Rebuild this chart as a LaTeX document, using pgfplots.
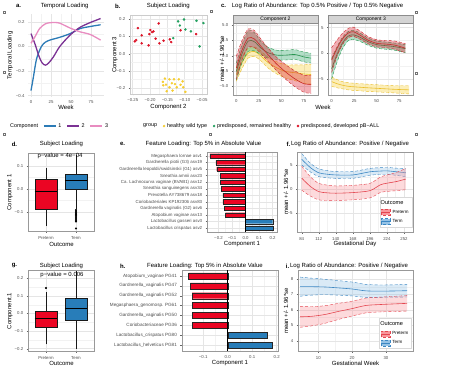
\documentclass[border=0pt]{standalone}
\usepackage{fontspec}
\setmainfont{Liberation Sans}
\usepackage{pgfplots}
\pgfplotsset{compat=1.18}

\definecolor{cOne}{RGB}{44,123,182}
\definecolor{cTwo}{RGB}{123,50,148}
\definecolor{cThree}{RGB}{232,140,192}
\definecolor{gY}{RGB}{245,205,50}
\definecolor{gG}{RGB}{35,160,95}
\definecolor{gR}{RGB}{220,20,40}
\definecolor{lnY}{RGB}{235,190,40}
\definecolor{lnG}{RGB}{40,150,80}
\definecolor{lnR}{RGB}{200,40,40}
\definecolor{bxR}{RGB}{235,5,35}
\definecolor{bxB}{RGB}{40,125,185}
\definecolor{ptL}{RGB}{228,70,80}
\definecolor{ptF}{RGB}{248,150,155}
\definecolor{tmL}{RGB}{60,135,195}
\definecolor{tmF}{RGB}{150,195,230}

\newcommand{\fK}{\fontsize{4.3}{5}\selectfont}
\newcommand{\fL}{\fontsize{6}{7}\selectfont}
\newcommand{\fT}{\fontsize{6}{7}\selectfont}
\newcommand{\fG}{\fontsize{5.4}{6.4}\selectfont}

\pgfplotsset{
  gg/.style={scale only axis, anchor=south west,
    tick label style={font=\fK, text=black!70},
    grid=both,
    major grid style={draw=black!10, line width=0.45pt},
    minor grid style={draw=black!5, line width=0.3pt},
    tick align=outside, tick pos=left,
    major tick length=1.3pt, minor tick length=0pt,
    every tick/.style={draw=black!60, line width=0.3pt},
    axis line style={draw=black!40, line width=0.4pt},
  },
  bd/.style={draw=#1, densely dashed, line width=0.4pt, smooth, forget plot},
  mn/.style={draw=#1, line width=0.6pt, smooth, forget plot},
  bf/.style={fill=#1, fill opacity=0.35, draw=none, forget plot},
  bxl/.style={draw=black!90, line width=0.35pt, forget plot},
  bxm/.style={draw=black, line width=0.9pt, forget plot},
}

\begin{document}
\begin{tikzpicture}[x=1pt,y=1pt]
\path[use as bounding box] (0,0) rectangle (474,371);

% ---------------- panel a ----------------
\begin{axis}[gg, at={(28pt,274pt)}, width=76pt, height=83pt,
  xmin=-3.75, xmax=91.25, ymin=-0.412, ymax=0.265,
  axis line style={draw=none}, major tick length=0pt,
  minor tick num=1,
  xtick={0,25,50,75}, xticklabels={0,25,50,75},
  ytick={-0.4,-0.2,0,0.2}, yticklabels={−0.4,−0.2,0.0,0.2},
  legend image code/.code={\draw[#1] (0pt,0pt) -- (12pt,0pt);},
  legend columns=-1,
  legend style={at={(-0.263,-0.349)}, anchor=west, draw=none, fill=none,
    font=\fG, inner sep=0pt,
    /tikz/every even column/.append style={column sep=3pt}},
]
\addlegendimage{empty legend}\addlegendentry{Component}
\addplot[cOne, line width=1.3pt, smooth] coordinates {(0,-0.36)(3,-0.25)(7,-0.10)(13,0.0)(18,0.035)(24,0.053)(36,0.075)(49,0.105)(61,0.145)(74,0.163)(87,0.177)};
\addlegendentry{1}
\addplot[cTwo, line width=1.3pt, smooth] coordinates {(0,0.105)(5,0.02)(10,-0.08)(14,-0.135)(18,-0.152)(22,-0.135)(28,-0.085)(36,0.0)(49,0.094)(61,0.155)(74,0.195)(87,0.228)};
\addlegendentry{2}
\addplot[cThree, line width=1.3pt, smooth] coordinates {(0,0.026)(5,0.08)(11,0.148)(18,0.185)(24,0.194)(30,0.195)(36,0.19)(49,0.15)(61,0.12)(74,0.098)(87,0.052)};
\addlegendentry{3}
\end{axis}

% ---------------- panel b ----------------
\begin{axis}[gg, at={(130pt,277pt)}, width=77pt, height=78.7pt,
  xmin=-0.2578, xmax=-0.0357, ymin=-0.233, ymax=0.222,
  minor tick num=1, axis line style={draw=black!20},
  xtick={-0.25,-0.2,-0.15,-0.1,-0.05}, xticklabels={−0.25,−0.20,−0.15,−0.10,−0.05},
  ytick={-0.2,-0.1,0,0.1,0.2}, yticklabels={−0.2,−0.1,0.0,0.1,0.2},
  legend image code/.code={\draw[#1] plot coordinates {(2pt,0pt)};},
  legend columns=-1,
  legend style={at={(0.143,-0.407)}, anchor=west, draw=none, fill=none,
    font=\fG, inner sep=0pt,
    /tikz/every even column/.append style={column sep=4pt}},
]
\addlegendimage{empty legend}\addlegendentry{group}
\addplot[only marks, mark=*, mark size=1.05pt, mark options={draw=gY, fill=gY}] coordinates {(-0.157,-0.144)(-0.144,-0.148)(-0.131,-0.148)(-0.117,-0.148)(-0.106,-0.160)(-0.162,-0.183)(-0.154,-0.179)(-0.137,-0.171)(-0.123,-0.194)(-0.152,-0.217)(-0.135,-0.213)(-0.104,-0.194)(-0.098,-0.221)(-0.144,-0.194)(-0.163,-0.163)(-0.128,-0.176)(-0.112,-0.180)};
\addlegendentry{healthy wild type}
\addplot[only marks, mark=*, mark size=1.05pt, mark options={draw=gG, fill=gG}] coordinates {(-0.133,0.090)(-0.119,0.187)(-0.114,0.163)(-0.098,0.140)(-0.102,0.198)(-0.082,0.129)(-0.066,0.190)(-0.046,0.177)(-0.057,0.042)};
\addlegendentry{predisposed, remained healthy}
\addplot[only marks, mark=*, mark size=1.05pt, mark options={draw=gR, fill=gR}] coordinates {(-0.244,0.071)(-0.240,0.079)(-0.235,0.148)(-0.224,0.106)(-0.224,0.060)(-0.204,0.048)(-0.202,0.113)(-0.199,0.137)(-0.194,0.125)(-0.190,0.129)(-0.184,0.087)(-0.175,0.175)(-0.173,0.060)(-0.161,0.075)(-0.143,0.083)(-0.139,0.067)(-0.112,0.135)(-0.067,0.113)};
\addlegendentry{predisposed, developed pB−ALL}
\end{axis}

% ---------------- panel c left ----------------
\begin{axis}[gg, at={(233pt,276pt)}, width=85pt, height=72pt,
  xmin=-3.7, xmax=90.7, ymin=-6.46, ymax=5.38,
  minor tick num=1, axis line style={draw=black!40},
  xtick={0,25,50,75}, xticklabels={0,25,50,75},
  ytick={-5,-2.5,0,2.5,5}, yticklabels={−5.0,−2.5,0.0,2.5,5.0},
  title={Component 2},
  every axis title/.style={at={(0.5,1)}, anchor=south, fill=black!17, draw=black!45, line width=0.4pt,
    minimum width=85pt, minimum height=7.7pt, inner sep=0pt, font=\fontsize{5}{6}\selectfont},
]
% yellow
\addplot[bf=gY] coordinates {(0,-2.0)(6,-0.2)(13,1.2)(20,1.5)(27,0.8)(35,-0.2)(45,-1.0)(55,-1.5)(65,-1.5)(75,-1.5)(83,-1.4)(83,-4.8)(75,-4.5)(65,-4.1)(55,-3.7)(45,-3.0)(35,-2.0)(27,-0.8)(20,-0.1)(13,-0.4)(6,-2.2)(0,-4.2)} --cycle;
\addplot[bd=lnY] coordinates {(0,-2.0)(6,-0.2)(13,1.2)(20,1.5)(27,0.8)(35,-0.2)(45,-1.0)(55,-1.5)(65,-1.5)(75,-1.5)(83,-1.4)};
\addplot[bd=lnY] coordinates {(0,-4.2)(6,-2.2)(13,-0.4)(20,-0.1)(27,-0.8)(35,-2.0)(45,-3.0)(55,-3.7)(65,-4.1)(75,-4.5)(83,-4.8)};
\addplot[mn=lnY] coordinates {(0,-3.1)(6,-1.2)(13,0.4)(20,0.7)(27,0.0)(35,-1.1)(45,-2.0)(55,-2.6)(65,-2.8)(75,-3.0)(83,-3.1)};
% green
\addplot[bf=gG] coordinates {(0,-1.2)(6,1.7)(13,4.1)(20,3.8)(27,2.4)(35,1.4)(45,0.9)(55,0.9)(65,1.0)(75,0.6)(83,0.4)(83,-1.2)(75,-1.0)(65,-0.6)(55,-0.7)(45,-0.7)(35,-0.4)(27,0.2)(20,0.8)(13,0.7)(6,-1.3)(0,-4.0)} --cycle;
\addplot[bd=lnG] coordinates {(0,-1.2)(6,1.7)(13,4.1)(20,3.8)(27,2.4)(35,1.4)(45,0.9)(55,0.9)(65,1.0)(75,0.6)(83,0.4)};
\addplot[bd=lnG] coordinates {(0,-4.0)(6,-1.3)(13,0.7)(20,0.8)(27,0.2)(35,-0.4)(45,-0.7)(55,-0.7)(65,-0.6)(75,-1.0)(83,-1.2)};
\addplot[mn=lnG] coordinates {(0,-2.6)(6,0.2)(13,2.4)(20,2.3)(27,1.3)(35,0.5)(45,0.1)(55,0.1)(65,0.2)(75,-0.2)(83,-0.4)};
% red
\addplot[bf=gR] coordinates {(0,-0.1)(6,2.4)(13,4.4)(20,4.15)(27,2.8)(35,1.3)(45,-0.3)(55,-1.5)(65,-2.5)(75,-3.2)(83,-3.2)(83,-6.2)(75,-6.0)(65,-5.1)(55,-3.9)(45,-2.5)(35,-0.9)(27,0.4)(20,1.35)(13,1.4)(6,-0.8)(0,-3.9)} --cycle;
\addplot[bd=lnR] coordinates {(0,-0.1)(6,2.4)(13,4.4)(20,4.15)(27,2.8)(35,1.3)(45,-0.3)(55,-1.5)(65,-2.5)(75,-3.2)(83,-3.2)};
\addplot[bd=lnR] coordinates {(0,-3.9)(6,-0.8)(13,1.4)(20,1.35)(27,0.4)(35,-0.9)(45,-2.5)(55,-3.9)(65,-5.1)(75,-6.0)(83,-6.2)};
\addplot[mn=lnR] coordinates {(0,-2.0)(6,0.8)(13,2.9)(20,2.75)(27,1.6)(35,0.2)(45,-1.4)(55,-2.7)(65,-3.8)(75,-4.6)(83,-4.7)};
\end{axis}

% ---------------- panel c right ----------------
\begin{axis}[gg, at={(328.3pt,276pt)}, width=85pt, height=72pt,
  xmin=-3.7, xmax=90.7, ymin=-8.1, ymax=5.9,
  minor tick num=1, axis line style={draw=black!40},
  xtick={0,25,50,75}, xticklabels={0,25,50,75},
  ytick={-5,0,5}, yticklabels={−5,0,5},
  title={Component 3},
  every axis title/.style={at={(0.5,1)}, anchor=south, fill=black!17, draw=black!45, line width=0.4pt,
    minimum width=85pt, minimum height=7.7pt, inner sep=0pt, font=\fontsize{5}{6}\selectfont},
]
\addplot[bf=gY] coordinates {(0,-4.6)(6,-5.1)(12,-5.5)(18,-5.7)(24,-5.8)(32,-5.9)(40,-6.0)(50,-6.1)(60,-6.2)(70,-6.3)(86,-6.3)(86,-7.9)(70,-7.7)(60,-7.6)(50,-7.5)(40,-7.4)(32,-7.3)(24,-7.2)(18,-7.1)(12,-6.9)(6,-6.7)(0,-6.4)} --cycle;
\addplot[bd=lnY] coordinates {(0,-4.6)(6,-5.1)(12,-5.5)(18,-5.7)(24,-5.8)(32,-5.9)(40,-6.0)(50,-6.1)(60,-6.2)(70,-6.3)(86,-6.3)};
\addplot[bd=lnY] coordinates {(0,-6.4)(6,-6.7)(12,-6.9)(18,-7.1)(24,-7.2)(32,-7.3)(40,-7.4)(50,-7.5)(60,-7.6)(70,-7.7)(86,-7.9)};
\addplot[mn=lnY] coordinates {(0,-5.5)(6,-5.9)(12,-6.2)(18,-6.4)(24,-6.5)(32,-6.6)(40,-6.7)(50,-6.8)(60,-6.9)(70,-7.0)(86,-7.1)};
\addplot[bf=gG] coordinates {(0,-1.0)(6,1.3)(12,3.1)(18,4.2)(24,4.5)(32,3.9)(40,3.0)(50,2.4)(60,2.2)(70,2.0)(82,1.7)(82,0.1)(70,0.6)(60,0.8)(50,1.0)(40,1.6)(32,2.3)(24,2.7)(18,2.4)(12,0.9)(6,-1.7)(0,-5.0)} --cycle;
\addplot[bd=lnG] coordinates {(0,-1.0)(6,1.3)(12,3.1)(18,4.2)(24,4.5)(32,3.9)(40,3.0)(50,2.4)(60,2.2)(70,2.0)(82,1.7)};
\addplot[bd=lnG] coordinates {(0,-5.0)(6,-1.7)(12,0.9)(18,2.4)(24,2.7)(32,2.3)(40,1.6)(50,1.0)(60,0.8)(70,0.6)(82,0.1)};
\addplot[mn=lnG] coordinates {(0,-3.0)(6,-0.2)(12,2.0)(18,3.3)(24,3.6)(32,3.1)(40,2.3)(50,1.7)(60,1.5)(70,1.3)(82,0.9)};
\addplot[bf=gR] coordinates {(0,1.1)(6,2.6)(12,3.9)(18,4.8)(24,5.1)(32,4.3)(40,3.3)(50,2.65)(60,2.5)(70,2.4)(82,1.9)(82,0.1)(70,0.8)(60,1.1)(50,1.25)(40,1.9)(32,2.7)(24,3.3)(18,3.0)(12,1.7)(6,-0.6)(0,-3.7)} --cycle;
\addplot[bd=lnR] coordinates {(0,1.1)(6,2.6)(12,3.9)(18,4.8)(24,5.1)(32,4.3)(40,3.3)(50,2.65)(60,2.5)(70,2.4)(82,1.9)};
\addplot[bd=lnR] coordinates {(0,-3.7)(6,-0.6)(12,1.7)(18,3.0)(24,3.3)(32,2.7)(40,1.9)(50,1.25)(60,1.1)(70,0.8)(82,0.1)};
\addplot[mn=lnR] coordinates {(0,-1.3)(6,1.0)(12,2.8)(18,3.9)(24,4.2)(32,3.5)(40,2.6)(50,1.95)(60,1.8)(70,1.6)(82,1.0)};
\end{axis}

% ---------------- panel d ----------------
\begin{axis}[gg, at={(28pt,139.3pt)}, width=66pt, height=78.7pt,
  xmin=0.4, xmax=2.6, ymin=-0.184, ymax=0.155,
  minor x tick num=0, minor y tick num=1,
  xtick={1,2}, xticklabels={Preterm,Term},
  ytick={-0.1,0,0.1}, yticklabels={−0.1,0.0,0.1},
]
% Preterm
\addplot[bxl] coordinates {(1,-0.16)(1,-0.085)};
\addplot[bxl] coordinates {(1,0.043)(1,0.09)};
\addplot[bxl, fill=bxR] coordinates {(0.625,-0.085)(1.375,-0.085)(1.375,0.043)(0.625,0.043)} --cycle;
\addplot[bxm] coordinates {(0.625,-0.01)(1.375,-0.01)};
% Term
\addplot[bxl] coordinates {(2,-0.085)(2,0.0)};
\addplot[bxl] coordinates {(2,0.063)(2,0.147)};
\addplot[bxl, fill=bxB] coordinates {(1.625,0.0)(2.375,0.0)(2.375,0.063)(1.625,0.063)} --cycle;
\addplot[bxm] coordinates {(1.625,0.035)(2.375,0.035)};
\addplot[only marks, mark=*, mark size=0.8pt, mark options={fill=black, draw=black}, forget plot]
  coordinates {(2,-0.09)(2,-0.095)(2,-0.1)(2,-0.105)(2,-0.11)(2,-0.115)(2,-0.12)(2,-0.125)(2,-0.13)(2,-0.135)(2,-0.14)(2,-0.17)};
\end{axis}

% ---------------- panel e ----------------
\begin{axis}[gg, at={(207pt,139pt)}, width=70pt, height=80pt,
  xmin=-0.285, xmax=0.233, ymin=0.4, ymax=12.6,
  minor x tick num=1, minor y tick num=0,
  xtick={-0.2,-0.1,0,0.1,0.2}, xticklabels={−0.2,−0.1,0.0,0.1,0.2},
  ytick={1,...,12},
  yticklabels={Lactobacillus crispatus asv2, Lactobacillus gasseri asv3, Atopobium vaginae asv13, Gardnerella vaginalis (G2) asv6, Coriobacteriales KP192306 asv83, Prevotella AY738679 asv18, Sneathia sanguinegens asv34, Ca. Lachnocurva vaginae (BVAB1) asv12, Sneathia amnii asv23, Gardnerella leopoldii/swidsinskii (G1) asv5, Gardnerella piotii (G3) asv19, Megasphaera lornae asv1},
  yticklabel style={font=\fontsize{4.4}{5}\selectfont},
]
\addplot[xbar, bar width=4.4pt, bar shift=0pt, fill=bxR, draw=black!85, line width=0.3pt] coordinates {(-0.263,12)(-0.219,11)(-0.213,10)(-0.187,9)(-0.184,8)(-0.177,7)(-0.167,6)(-0.167,5)(-0.159,4)(-0.147,3)};
\addplot[xbar, bar width=4.4pt, bar shift=0pt, fill=bxB, draw=black!85, line width=0.3pt] coordinates {(0.201,2)(0.204,1)};
\addplot[black, line width=0.45pt] coordinates {(0,0.4)(0,12.6)};
\end{axis}

% ---------------- panel f ----------------
\begin{axis}[gg, at={(297.3pt,138.3pt)}, width=116pt, height=80.7pt,
  xmin=76.8, xmax=267.3, ymin=-9.0, ymax=7.7,
  minor tick num=1,
  xtick={84,112,140,168,196,224,252}, xticklabels={84,112,140,168,196,224,252},
  ytick={-5,0,5}, yticklabels={−5,0,5},
  legend style={at={(0.99,0.446)}, anchor=north east, font=\fontsize{4.5}{5.5}\selectfont,
    draw=black!15, fill=white, inner sep=1.2pt, row sep=0.6pt, cells={anchor=west}},
]
\addplot[bf=tmF] coordinates {(84,7.4)(98,5.4)(112,4.2)(126,3.85)(140,3.65)(168,3.65)(196,4.3)(213,4.45)(224,4.5)(240,4.35)(255,4.2)(255,2.6)(240,2.85)(224,3.1)(213,3.05)(196,2.9)(168,2.25)(140,2.25)(126,2.35)(112,2.6)(98,3.6)(84,5.0)} --cycle;
\addplot[bd=tmL] coordinates {(84,7.4)(98,5.4)(112,4.2)(126,3.85)(140,3.65)(168,3.65)(196,4.3)(213,4.45)(224,4.5)(240,4.35)(255,4.2)};
\addplot[bd=tmL] coordinates {(84,5.0)(98,3.6)(112,2.6)(126,2.35)(140,2.25)(168,2.25)(196,2.9)(213,3.05)(224,3.1)(240,2.85)(255,2.6)};
\addplot[mn=tmL] coordinates {(84,6.2)(98,4.5)(112,3.4)(126,3.1)(140,2.95)(168,2.95)(196,3.6)(213,3.75)(224,3.8)(240,3.6)(255,3.4)};
\addplot[bf=ptF] coordinates {(84,4.8)(98,2.6)(112,1.2)(126,0.85)(140,0.67)(168,0.8)(196,1.2)(213,2.5)(224,2.94)(240,3.5)(255,4.3)(255,-0.1)(240,-0.3)(224,-0.46)(213,-0.7)(196,-1.8)(168,-2.2)(140,-2.33)(126,-2.35)(112,-2.2)(98,-1.4)(84,-0.2)} --cycle;
\addplot[bd=ptL] coordinates {(84,4.8)(98,2.6)(112,1.2)(126,0.85)(140,0.67)(168,0.8)(196,1.2)(213,2.5)(224,2.94)(240,3.5)(255,4.3)};
\addplot[bd=ptL] coordinates {(84,-0.2)(98,-1.4)(112,-2.2)(126,-2.35)(140,-2.33)(168,-2.2)(196,-1.8)(213,-0.7)(224,-0.46)(240,-0.3)(255,-0.1)};
\addplot[mn=ptL] coordinates {(84,2.3)(98,0.6)(112,-0.5)(126,-0.75)(140,-0.83)(168,-0.7)(196,-0.3)(213,0.9)(224,1.24)(240,1.6)(255,2.1)};
\addlegendimage{empty legend}\addlegendentry{\fontsize{5.6}{6.5}\selectfont\hspace*{-12pt}Outcome}
\addlegendimage{legend image code/.code={\draw[fill=ptF, draw=ptL, densely dashed, line width=0.35pt] (0pt,-3pt) rectangle (9pt,3pt); \draw[ptL, line width=0.5pt] (0pt,0pt) -- (9pt,0pt);}}
\addlegendentry{Preterm}
\addlegendimage{legend image code/.code={\draw[fill=tmF, draw=tmL, densely dashed, line width=0.35pt] (0pt,-3pt) rectangle (9pt,3pt); \draw[tmL, line width=0.5pt] (0pt,0pt) -- (9pt,0pt);}}
\addlegendentry{Term}
\end{axis}

% ---------------- panel g ----------------
\begin{axis}[gg, at={(28pt,19.3pt)}, width=66pt, height=81.7pt,
  xmin=0.4, xmax=2.6, ymin=-0.217, ymax=0.247,
  minor x tick num=0, minor y tick num=1,
  xtick={1,2}, xticklabels={Preterm,Term},
  ytick={-0.2,-0.1,0,0.1,0.2}, yticklabels={−0.2,−0.1,0.0,0.1,0.2},
]
% Preterm
\addplot[bxl] coordinates {(1,-0.175)(1,-0.075)};
\addplot[bxl] coordinates {(1,0.015)(1,0.12)};
\addplot[bxl, fill=bxR] coordinates {(0.625,-0.075)(1.375,-0.075)(1.375,0.015)(0.625,0.015)} --cycle;
\addplot[bxm] coordinates {(0.625,-0.03)(1.375,-0.03)};
\addplot[only marks, mark=*, mark size=0.8pt, mark options={fill=black, draw=black}, forget plot] coordinates {(1,0.145)};
% Term
\addplot[bxl] coordinates {(2,-0.20)(2,-0.04)};
\addplot[bxl] coordinates {(2,0.085)(2,0.24)};
\addplot[bxl, fill=bxB] coordinates {(1.625,-0.04)(2.375,-0.04)(2.375,0.085)(1.625,0.085)} --cycle;
\addplot[bxm] coordinates {(1.625,0.028)(2.375,0.028)};
\end{axis}

% ---------------- panel h ----------------
\begin{axis}[gg, at={(181.7pt,20pt)}, width=96.6pt, height=81pt,
  xmin=-0.1878, xmax=0.2065, ymin=0.4, ymax=8.6,
  minor x tick num=1, minor y tick num=0,
  xtick={-0.1,0,0.1,0.2}, xticklabels={−0.1,0.0,0.1,0.2},
  ytick={1,...,8},
  yticklabels={Lactobacillus\_helveticus PG81, Lactobacillus\_crispatus PG80, Coriobacteriaceae PG36, Gardnerella\_vaginalis PG50, Megasphaera\_genomosp. PG61, Gardnerella\_vaginalis PG52, Gardnerella\_vaginalis PG47, Atopobium\_vaginae PG41},
  yticklabel style={font=\fontsize{4.6}{5}\selectfont},
]
\addplot[xbar, bar width=6pt, bar shift=0pt, fill=bxR, draw=black!85, line width=0.3pt] coordinates {(-0.160,8)(-0.152,7)(-0.145,6)(-0.145,5)(-0.145,4)(-0.145,3)};
\addplot[xbar, bar width=6pt, bar shift=0pt, fill=bxB, draw=black!85, line width=0.3pt] coordinates {(0.160,2)(0.183,1)};
\addplot[black, line width=0.45pt] coordinates {(0,0.4)(0,8.6)};
\end{axis}

% ---------------- panel i ----------------
\begin{axis}[gg, at={(298pt,19.3pt)}, width=115.3pt, height=81.7pt,
  xmin=4.0, xmax=38.1, ymin=3.29, ymax=8.58,
  minor tick num=1,
  xtick={10,20,30}, xticklabels={10,20,30},
  ytick={4,5,6,7,8}, yticklabels={4,5,6,7,8},
  legend style={at={(0.986,0.41)}, anchor=north east, font=\fontsize{4.5}{5.5}\selectfont,
    draw=black!15, fill=white, inner sep=1.2pt, row sep=0.6pt, cells={anchor=west}},
]
\addplot[bf=tmF] coordinates {(4.6,8.12)(8,8.05)(12,7.98)(16,7.89)(20,7.8)(24,7.65)(28,7.61)(32,7.62)(36.3,7.65)(36.3,6.83)(32,6.82)(28,6.81)(24,6.81)(20,6.9)(16,6.95)(12,6.98)(8,6.95)(4.6,6.88)} --cycle;
\addplot[bd=tmL] coordinates {(4.6,8.12)(8,8.05)(12,7.98)(16,7.89)(20,7.8)(24,7.65)(28,7.61)(32,7.62)(36.3,7.65)};
\addplot[bd=tmL] coordinates {(4.6,6.88)(8,6.95)(12,6.98)(16,6.95)(20,6.9)(24,6.81)(28,6.81)(32,6.82)(36.3,6.83)};
\addplot[mn=tmL] coordinates {(4.6,7.5)(8,7.5)(12,7.48)(16,7.42)(20,7.35)(24,7.23)(28,7.21)(32,7.22)(36.3,7.24)};
\addplot[bf=ptF] coordinates {(4.6,6.23)(8,6.2)(12,6.27)(16,6.42)(20,6.56)(24,6.76)(28,6.82)(32,6.87)(36.3,6.92)(36.3,5.92)(32,5.89)(28,5.86)(24,5.8)(20,5.6)(16,5.38)(12,5.13)(8,4.96)(4.6,4.87)} --cycle;
\addplot[bd=ptL] coordinates {(4.6,6.23)(8,6.2)(12,6.27)(16,6.42)(20,6.56)(24,6.76)(28,6.82)(32,6.87)(36.3,6.92)};
\addplot[bd=ptL] coordinates {(4.6,4.87)(8,4.96)(12,5.13)(16,5.38)(20,5.6)(24,5.8)(28,5.86)(32,5.89)(36.3,5.92)};
\addplot[mn=ptL] coordinates {(4.6,5.55)(8,5.58)(12,5.7)(16,5.9)(20,6.08)(24,6.28)(28,6.34)(32,6.38)(36.3,6.42)};
\addlegendimage{empty legend}\addlegendentry{\fontsize{5.6}{6.5}\selectfont\hspace*{-12pt}Outcome}
\addlegendimage{legend image code/.code={\draw[fill=ptF, draw=ptL, densely dashed, line width=0.35pt] (0pt,-3pt) rectangle (9pt,3pt); \draw[ptL, line width=0.5pt] (0pt,0pt) -- (9pt,0pt);}}
\addlegendentry{Preterm}
\addlegendimage{legend image code/.code={\draw[fill=tmF, draw=tmL, densely dashed, line width=0.35pt] (0pt,-3pt) rectangle (9pt,3pt); \draw[tmL, line width=0.5pt] (0pt,0pt) -- (9pt,0pt);}}
\addlegendentry{Term}
\end{axis}

% ---------------- texts ----------------
\node[anchor=west, font=\fT\bfseries] at (12.5,365) {a.};
\node[font=\fT] at (64.7,365) {Temporal Loading};
\node[anchor=west, font=\fT\bfseries] at (111.5,365) {b.};
\node[font=\fT] at (168.3,365) {Subject Loading};
\node[anchor=west, font=\fT\bfseries] at (217.5,365) {c.};
\node[font=\fT] at (317.5,365) {Log Ratio of Abundance: Top 0.5\% Positive / Top 0.5\% Negative};

\node[font=\fL] at (66,263.3) {Week};
\node[font=\fL, rotate=90] at (10,315.5) {Temporal Loading};
\node[font=\fL] at (168.5,264) {Component 2};
\node[font=\fL, rotate=90] at (115,316.3) {Component 3};
\node[font=\fL] at (323,264) {Week};
\node[font=\fL, rotate=90] at (222,312) {mean +/- 1.96*se};

\node[anchor=west, font=\fT\bfseries] at (8.3,226.7) {d.};
\node[font=\fT] at (61.5,226.7) {Subject Loading};
\node[anchor=west, font=\fT\bfseries] at (116.5,226.7) {e.};
\node[font=\fT] at (203.5,226.7) {Feature Loading: Top 5\% in Absolute Value};
\node[anchor=west, font=\fT\bfseries] at (283,226.7) {f.};
\node[font=\fT] at (350,226.7) {Log Ratio of Abundance: Positive / Negative};

\node[font=\fL] at (60,215) {p−value = 4e−04};
\node[font=\fL, rotate=90] at (10,178.6) {Component 1};
\node[font=\fL] at (61.5,127) {Outcome};
\node[font=\fL] at (242,127) {Component 1};
\node[font=\fL, rotate=90] at (286,179) {mean +/- 1.96*se};
\node[font=\fL] at (355,127) {Gestational Day};

\node[anchor=west, font=\fT\bfseries] at (8.3,105) {g.};
\node[font=\fT] at (61.5,105) {Subject Loading};
\node[anchor=west, font=\fT\bfseries] at (116.5,105) {h.};
\node[font=\fT] at (205,105) {Feature Loading: Top 5\% in Absolute Value};
\node[anchor=west, font=\fT\bfseries] at (282.3,105) {i.};
\node[font=\fT] at (349,105) {Log Ratio of Abundance: Positive / Negative};

\node[font=\fL] at (62,96) {p−value = 0.006};
\node[font=\fL, rotate=90] at (10,60) {Component.1};
\node[font=\fL] at (61.5,8) {Outcome};
\node[font=\fL] at (230,8) {Component 1};
\node[font=\fL, rotate=90] at (286,60) {mean +/- 1.96*se};
\node[font=\fL] at (355.6,8) {Gestational Week};

% small box glyphs present in the reference
\foreach \bx/\by in {4/359, 4/299, 211/360, 416/359, 416/298, 4/237, 210/237, 416/237}
  \draw[black!55, line width=0.3pt] (\bx-1.1,\by-1.1) rectangle ++(2.2,2.2);
\end{tikzpicture}
\end{document}
